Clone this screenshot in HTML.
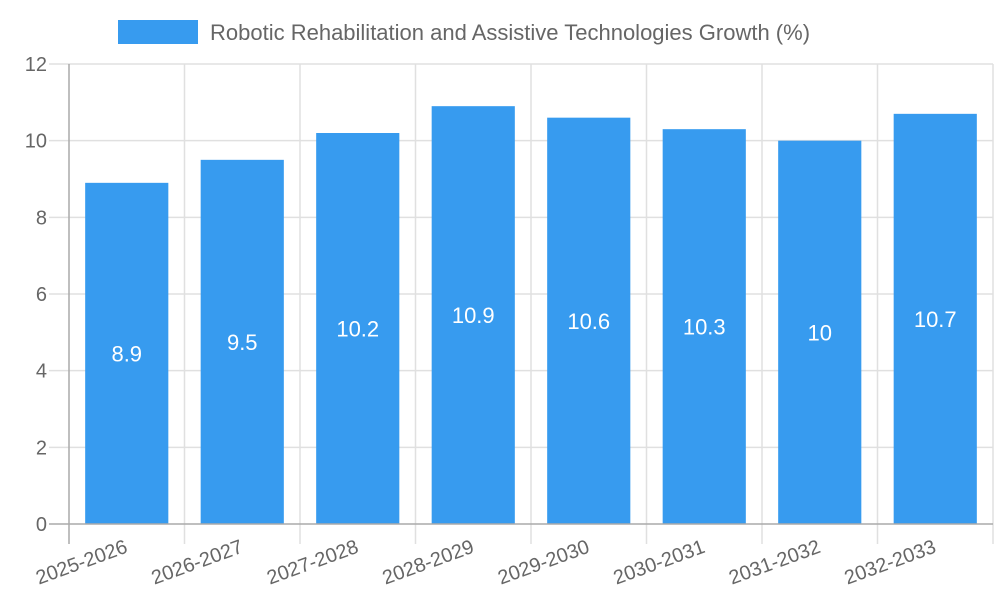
<!DOCTYPE html>
<html><head><meta charset="utf-8"><style>
html,body{margin:0;padding:0;background:#fff;}
svg{display:block;font-family:"Liberation Sans",sans-serif;}
</style></head><body>
<svg id="chart" width="1000" height="600" viewBox="0 0 1000 600">
<g>
<rect x="118" y="20" width="80" height="24" fill="#379bef"/>
<text x="210" y="40" font-size="22" fill="#666">Robotic Rehabilitation and Assistive Technologies Growth (%)</text>
</g>
<g id="grid"></g>
<g id="bars"></g>
<g id="axes"></g>
</svg>
<script>
const categories = ["2025-2026","2026-2027","2027-2028","2028-2029","2029-2030","2030-2031","2031-2032","2032-2033"];
const values = [8.9, 9.5, 10.2, 10.9, 10.6, 10.3, 10, 10.7];
const yTicks = [0, 2, 4, 6, 8, 10, 12];

const NS = "http://www.w3.org/2000/svg";
const L = 69, R = 993, T = 64, B = 524, yMax = 12;
const band = (R - L) / categories.length;
const y = v => B - (v / yMax) * (B - T);
const xc = i => L + band * (i + 0.5);
function mk(tag, attrs, parent, txt) {
  const e = document.createElementNS(NS, tag);
  for (const k in attrs) e.setAttribute(k, attrs[k]);
  if (txt !== undefined) e.textContent = txt;
  parent.appendChild(e);
  return e;
}
const grid = document.getElementById('grid'), bars = document.getElementById('bars'), axes = document.getElementById('axes');
yTicks.forEach(t => {
  const ln = mk('line', {x1: L - 20, x2: R, y1: y(t), y2: y(t), stroke: t === 0 ? '#aaa' : '#e0e0e0', 'stroke-width': 1.5}, t === 0 ? axes : grid);
  
  
  const tx = mk('text', {x: 47, y: y(t) + 7, 'text-anchor': 'end', 'font-size': 20, fill: '#666'}, axes, String(t));
  
  
});
for (let i = 0; i <= categories.length; i++) {
  const x = L + band * i;
  const ln = mk('line', {x1: x, x2: x, y1: T, y2: B + 20, stroke: i === 0 ? '#aaa' : '#e0e0e0', 'stroke-width': 1.5}, i === 0 ? axes : grid);
  
  
}
const bw = band * 0.72;
values.forEach((v, i) => {
  const r = mk('rect', {x: xc(i) - bw / 2, y: y(v), width: bw, height: B - y(v), fill: '#379bef'}, bars);
  
  
  const t = mk('text', {x: xc(i), y: (y(v) + B) / 2 + 8, 'text-anchor': 'middle', 'font-size': 22, fill: '#fff'}, bars, String(v));
  
  
  const xl = mk('text', {x: 0, y: 0, 'text-anchor': 'end', 'font-size': 20, fill: '#666', transform: 'translate(' + (xc(i) + 2) + ',552) rotate(-20)'}, axes, categories[i]);
  
  
});
</script>
</body></html>
